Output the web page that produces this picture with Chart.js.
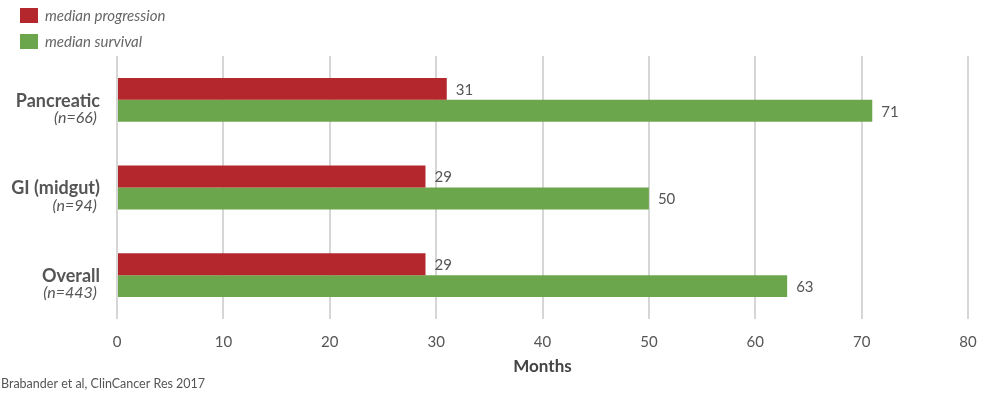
<!DOCTYPE html>
<html>
<head>
<meta charset="utf-8">
<script src="https://cdn.jsdelivr.net/npm/chart.js@4.4.0/dist/chart.umd.min.js"></script>
<style>
  html, body { margin: 0; padding: 0; background: #fff; }
</style>
</head>
<body>
<canvas id="chart" width="1002" height="404"></canvas>
<script>
const groups = ["Pancreatic", "GI (midgut)", "Overall"];
const groupSizes = ["(n=66)", "(n=94)", "(n=443)"];
const progression = [31, 29, 29];
const survival = [71, 50, 63];
const xTicks = [0, 10, 20, 30, 40, 50, 60, 70, 80];
const seriesNames = ["median progression", "median survival"];
const source = "Brabander et al, ClinCancer Res 2017";

const RED = "#b3272d";
const GREEN = "#6ca64c";
const TEXT = "#555555";
const FONT = "Lato, 'Open Sans', sans-serif";

// two-line category labels: bold name + italic n
const groupLabels = {
  id: "groupLabels",
  afterDraw(chart) {
    const { ctx, scales } = chart;
    const y = scales.y;
    const xRight = chart.chartArea.left - 17;
    ctx.save();
    ctx.fillStyle = TEXT;
    ctx.textAlign = "right";
    ctx.textBaseline = "middle";
    groups.forEach((g, i) => {
      const cy = y.getPixelForValue(i);
      ctx.font = "bold 18px " + FONT;
      ctx.fillText(g, xRight, cy + 1);
      ctx.font = "italic 16px " + FONT;
      ctx.fillText(groupSizes[i], xRight - 3, cy + 18);
    });
    ctx.restore();
  }
};

// value labels at bar ends
const valueLabels = {
  id: "valueLabels",
  afterDatasetsDraw(chart) {
    const { ctx } = chart;
    ctx.save();
    ctx.fillStyle = TEXT;
    ctx.font = "15px " + FONT;
    ctx.textAlign = "left";
    ctx.textBaseline = "middle";
    chart.data.datasets.forEach((ds, di) => {
      chart.getDatasetMeta(di).data.forEach((bar, i) => {
        ctx.fillText(ds.data[i], bar.x + 9, bar.y + 1);
      });
    });
    ctx.restore();
  }
};

// stacked legend top-left and source note
const extras = {
  id: "extras",
  afterDraw(chart) {
    const { ctx } = chart;
    ctx.save();
    chart.data.datasets.forEach((ds, i) => {
      const top = 8 + i * 26;
      ctx.fillStyle = ds.backgroundColor;
      ctx.fillRect(20, top, 18, 15);
      ctx.fillStyle = "#666";
      ctx.font = "italic 15px " + FONT;
      ctx.textBaseline = "middle";
      ctx.textAlign = "left";
      ctx.fillText(ds.label, 45, top + 8);
    });
    ctx.fillStyle = TEXT;
    ctx.font = "12.5px " + FONT;
    ctx.textBaseline = "middle";
    ctx.fillText(source, 1, 384);
    ctx.restore();
  }
};

new Chart(document.getElementById("chart"), {
  type: "bar",
  data: {
    labels: groups,
    datasets: [
      { label: seriesNames[0], data: progression, backgroundColor: RED },
      { label: seriesNames[1], data: survival, backgroundColor: GREEN }
    ]
  },
  options: {
    indexAxis: "y",
    responsive: false,
    animation: false,
    devicePixelRatio: 1,
    datasets: { bar: { categoryPercentage: 0.5, barPercentage: 1 } },
    layout: { padding: { top: 56, right: 34, left: 0, bottom: 0 } },
    plugins: { legend: { display: false }, tooltip: { enabled: false } },
    scales: {
      x: {
        min: 0,
        max: 80,
        afterBuildTicks(scale) { scale.ticks = xTicks.map(v => ({ value: v })); },
        afterFit(scale) { scale.height = 85; },
        grid: { color: "#d6d6d6", lineWidth: 2, drawTicks: false },
        border: { display: false },
        ticks: { color: TEXT, font: { family: FONT, size: 15 }, padding: 14 },
        title: {
          display: true,
          text: "Months",
          color: "#444",
          font: { family: FONT, size: 17, weight: "bold" },
          padding: { top: 0, bottom: 27 }
        }
      },
      y: {
        afterFit(scale) { scale.width = 117; },
        grid: { display: false },
        border: { display: false },
        ticks: { display: false }
      }
    }
  },
  plugins: [groupLabels, valueLabels, extras]
});
</script>
</body>
</html>
